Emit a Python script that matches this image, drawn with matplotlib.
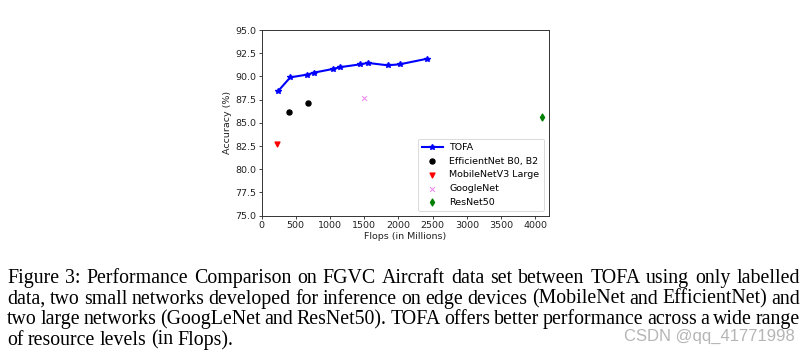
import matplotlib
matplotlib.use("Agg")
import matplotlib.pyplot as plt

# ---- data ----
tofa_flops = [240, 420, 670, 760, 1040, 1150, 1440, 1555, 1840, 2015, 2415]
tofa_acc = [88.4, 89.9, 90.2, 90.4, 90.8, 91.0, 91.3, 91.45, 91.2, 91.3, 91.9]
effnet_flops = [397, 674]
effnet_acc = [86.15, 87.15]
mobilenet_flops = [230]
mobilenet_acc = [82.7]
googlenet_flops = [1500]
googlenet_acc = [87.65]
resnet_flops = [4100]
resnet_acc = [85.6]
x_ticks = [0, 500, 1000, 1500, 2000, 2500, 3000, 3500, 4000]
y_ticks = [75.0, 77.5, 80.0, 82.5, 85.0, 87.5, 90.0, 92.5, 95.0]

caption_lines = [
    "Figure 3: Performance Comparison on FGVC Aircraft data set between TOFA using only labelled",
    "data, two small networks developed for inference on edge devices (MobileNet and EfficientNet) and",
    "two large networks (GoogLeNet and ResNet50). TOFA offers better performance across a wide range",
    "of resource levels (in Flops).",
]
watermark = "CSDN @qq_41771998"

W, H = 805, 353
fig = plt.figure(figsize=(W / 100, H / 100), dpi=100)

# axes in pixel coords
left, right, top, bottom = 261.5, 548.5, 30.0, 215.7
ax = fig.add_axes([left / W, 1 - bottom / H, (right - left) / W, (bottom - top) / H])

fs = 6.8
ax.plot(tofa_flops, tofa_acc, color="#0000ff", marker="*", markersize=3.8, linewidth=1.5, label="TOFA")
ax.scatter(effnet_flops, effnet_acc, color="black", marker="o", s=13, label="EfficientNet B0, B2", zorder=3)
ax.scatter(mobilenet_flops, mobilenet_acc, color="red", marker="v", s=12, label="MobileNetV3 Large", zorder=3)
ax.scatter(googlenet_flops, googlenet_acc, color="violet", marker="x", s=12, linewidths=0.7, label="GoogleNet", zorder=3)
ax.scatter(resnet_flops, resnet_acc, color="green", marker="d", s=12, label="ResNet50", zorder=3)

ax.set_xlim(0, 4190)
ax.set_ylim(75, 95)
ax.set_xticks(x_ticks)
ax.set_yticks(y_ticks)
ax.set_yticklabels([f"{v:.1f}" for v in y_ticks])
ax.tick_params(labelsize=fs, length=2.5, width=0.6, pad=1.5, colors="#222222")
for s in ax.spines.values():
    s.set_linewidth(0.7)
    s.set_color("#333333")
ax.set_xlabel("Flops (in Millions)", fontsize=fs, labelpad=1.5, color="#222222")
ax.set_ylabel("Accuracy (%)", fontsize=fs, labelpad=2, color="#222222")
leg = ax.legend(loc="lower right", fontsize=fs, handlelength=2.2, borderpad=0.45,
                labelspacing=0.5, handletextpad=0.7, framealpha=1.0)
leg.get_frame().set_linewidth(0.5)

# ---- caption (justified) ----
fig.canvas.draw()
renderer = fig.canvas.get_renderer()
fam = "Liberation Serif"
x0, x1 = 7.0, 800.0
baselines = [282.7, 303.7, 324.3, 344.7]
base_fs = 16.0
min_space_frac = 0.2  # of font px

def measure(words, size):
    ws = []
    for w in words:
        t = fig.text(0, 0, w, fontsize=size, family=fam)
        ws.append(t.get_window_extent(renderer).width)
        t.remove()
    return ws

size = base_fs
for line in caption_lines[:3]:
    words = line.split(" ")
    ws = measure(words, base_fs)
    px = base_fs * 100 / 72
    need = sum(ws) + (len(words) - 1) * min_space_frac * px
    size = min(size, base_fs * (x1 - x0) / need)

for i, line in enumerate(caption_lines):
    words = line.split(" ")
    ws = measure(words, size)
    yb = 1 - baselines[i] / H
    if i < 3:
        gap = ((x1 - x0) - sum(ws)) / (len(words) - 1)
    else:
        gap = 0.22 * size * 100 / 72
    x = x0
    for w, wd in zip(words, ws):
        fig.text(x / W, yb, w, fontsize=size, family=fam, va="baseline", ha="left", color="black")
        x += wd + gap

fig.text(795 / W, 1 - 341 / H, watermark, fontsize=12.0, family="Liberation Sans",
         color="#a8a8a8", alpha=0.85, ha="right", va="baseline")

fig.savefig("out.png", dpi=100)
